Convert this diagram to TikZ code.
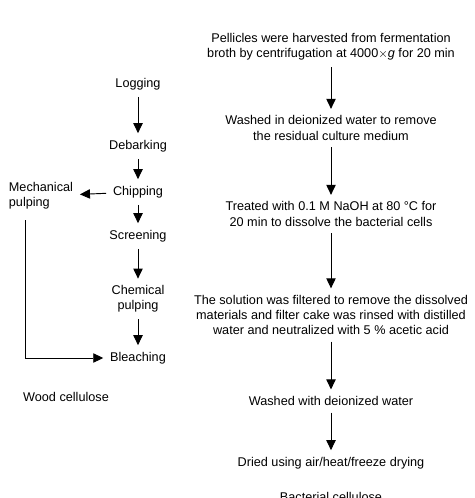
\documentclass[tikz,border=0pt]{standalone}
\usepackage{fontspec}
\setmainfont{Liberation Sans}
\usetikzlibrary{arrows.meta, calc, positioning}

\begin{document}
\begin{tikzpicture}[x=0.75pt, y=-0.75pt, >={Triangle[length=7.5pt, width=7pt]}]
	\tikzstyle{stage} = [inner sep=5pt, align=center, font=\fontsize{9.5}{11.3}\selectfont]
	\tikzstyle{flow} = [->, line width=0.7pt]

	\useasboundingbox (0,0) rectangle (474,498);

	% wood cellulose
	\node[stage] (log) at (138,84) {Logging};
	\node[stage] (debark) at (138,146) {Debarking};
	\node[stage] (chip) at (138,192) {Chipping};
	\node[stage] (screen) at (138,236) {Screening};
	\node[stage] (chem) at (138,299) {Chemical\\pulping};
	\node[stage] (bleach) at (138,358) {Bleaching};
	\node[stage, align=left, anchor=west] (mech) at (2,196) {Mechanical\\pulping};
	\node[stage] (wood) at (66,397) {Wood cellulose};

	\draw[flow] (log) -- (debark);
	\draw[flow] (debark) -- (chip);
	\draw[flow] (chip) -- (screen);
	\draw[flow] (screen) -- (chem);
	\draw[flow] (chem) -- (bleach);
	\draw[flow] (chip) -- (mech);
	\draw[flow] ($(mech.south west)+(23,4)$) |- (bleach);

	% bacterial cellulose
	\node[stage] (harvest) at (331,47) {Pellicles were harvested from fermentation\\broth by centrifugation at 4000$\times$\textit{g} for 20 min};
	\node[stage] (rinse) at (331,128) {Washed in deionized water to remove\\the residual culture medium};
	\node[stage] (naoh) at (331,214) {Treated with 0.1 M NaOH at 80 \textdegree C for\\20 min to dissolve the bacterial cells};
	\node[stage] (filter) at (331,315) {The solution was filtered to remove the dissolved\\materials and filter cake was rinsed with distilled\\water and neutralized with 5 \% acetic acid};
	\node[stage] (wash) at (331,401) {Washed with deionized water};
	\node[stage] (dry) at (331,463) {Dried using air/heat/freeze drying};
	\node[stage] (bact) at (331,497) {Bacterial cellulose};

	\draw[flow] (harvest) -- (rinse);
	\draw[flow] (rinse) -- (naoh);
	\draw[flow] (naoh) -- (filter);
	\draw[flow] (filter) -- (wash);
	\draw[flow] (wash) -- (dry);
\end{tikzpicture}
\end{document}
